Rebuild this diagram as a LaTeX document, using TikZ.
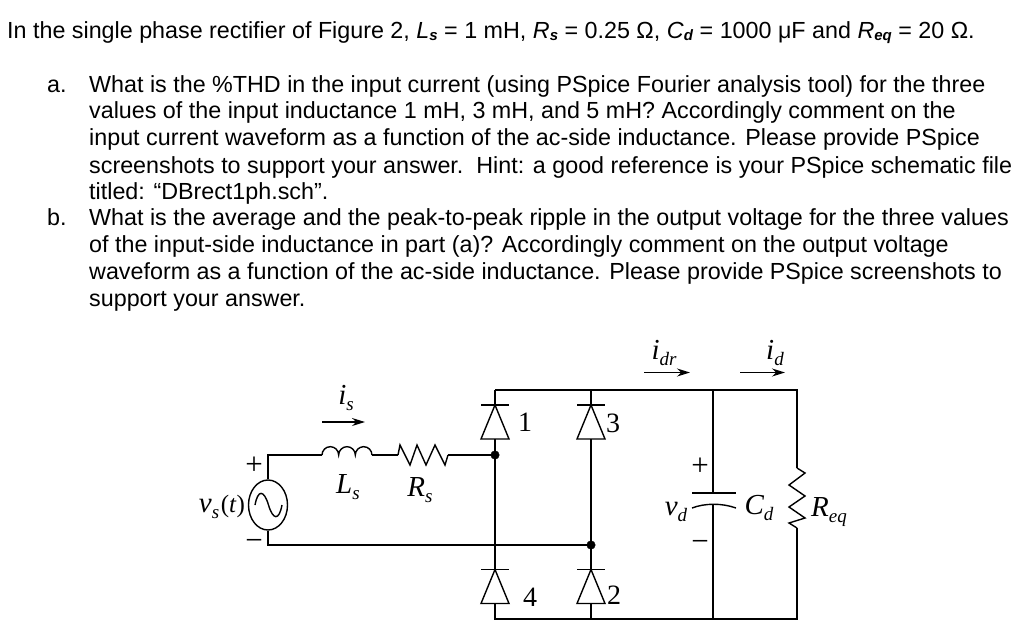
\documentclass[tikz,border=0pt]{standalone}
\usepackage{fontspec}
\setmainfont{Liberation Sans}
\newfontfamily\cirfont{Liberation Serif}
\usetikzlibrary{shapes.geometric,arrows.meta}

\newcommand{\txtsub}[2]{\textit{#1}\raisebox{-2.5pt}{\fontsize{15}{15}\selectfont\textit{\textbf{#2}}}}
\newcommand{\cirlabel}[2]{{\cirfont\itshape\fontsize{29}{29}\selectfont #1\raisebox{-6pt}{\fontsize{19}{19}\selectfont #2}}}

\tikzset{
    textline/.style={anchor=base west,inner sep=0pt,font=\fontsize{23.3}{23.3}\selectfont},
    wire/.style={line width=1.4pt},
    junction/.style={draw,circle,fill=black,inner sep=0pt,minimum size=8.5pt},
    number/.style={inner sep=0pt,font=\cirfont\fontsize{28}{28}\selectfont},
    sign/.style={inner sep=0pt,font=\cirfont\fontsize{31}{31}\selectfont},
    symbol/.style={inner sep=0pt},
    currentarrow/.style={line width=1.4pt,-{Stealth[length=13pt,width=8pt]}},
    diode/.pic={
        \draw[wire] (-14,0) -- (14,0);
        \draw[wire] (0,0) -- (-14,34) -- (14,34) -- cycle;
        \coordinate (-k) at (0,0);
        \coordinate (-a) at (0,34);
    },
    coil/.pic={
        \draw[wire] (0,0) arc[start angle=180,end angle=360,radius=8.33]
            arc[start angle=180,end angle=360,radius=8.33]
            arc[start angle=180,end angle=360,radius=8.33];
        \coordinate (-a) at (0,0);
        \coordinate (-b) at (50,0);
    },
    zigzagh/.pic={
        \draw[wire] (0,0) -- (2,-10) -- (12,10) -- (19,-10) -- (28,10) -- (37,-10) -- (47,10) -- (50,0);
        \coordinate (-a) at (0,0);
        \coordinate (-b) at (50,0);
    },
    zigzagv/.pic={
        \draw[wire] (0,0) -- (8,5) -- (-8,17) -- (8,28) -- (-8,39) -- (8,50) -- (-8,55) -- (0,60);
        \coordinate (-a) at (0,0);
        \coordinate (-b) at (0,60);
    },
}

\begin{document}
\begin{tikzpicture}[x=1pt,y=-1pt]
    \useasboundingbox (0,0) rectangle (1024,635);

    % problem text
    \node[textline] (intro) at (7,38) {In the single phase rectifier of Figure 2, \txtsub{L}{s} = 1 mH, \txtsub{R}{s} = 0.25 Ω, \txtsub{C}{d} = 1000 μF and \txtsub{R}{eq} = 20 Ω.};
    \node[textline] (parta) at (47,92) {a.};
    \node[textline] (a1) at (89,92) {What is the \%THD in the input current (using PSpice Fourier analysis tool) for the three};
    \node[textline] (a2) at (89,118) {values of the input inductance 1 mH, 3 mH, and 5 mH? Accordingly comment on the};
    \node[textline] (a3) at (89,145) {input current waveform as a function of the ac-side inductance. Please provide PSpice};
    \node[textline] (a4) at (89,173) {screenshots to support your answer.\ \ Hint: a good reference is your PSpice schematic file};
    \node[textline] (a5) at (89,199) {titled: “DBrect1ph.sch”.};
    \node[textline] (partb) at (47,225) {b.};
    \node[textline] (b1) at (89,225) {What is the average and the peak-to-peak ripple in the output voltage for the three values};
    \node[textline] (b2) at (89,252) {of the input-side inductance in part (a)? Accordingly comment on the output voltage};
    \node[textline] (b3) at (89,279) {waveform as a function of the ac-side inductance. Please provide PSpice screenshots to};
    \node[textline] (b4) at (89,306) {support your answer.};

    % corners of the circuit
    \coordinate (srctop) at (268,455);
    \coordinate (srcbot) at (268,545);
    \coordinate (lefttop) at (495,390);
    \coordinate (leftbot) at (495,619);
    \coordinate (righttop) at (591,390);
    \coordinate (rightbot) at (591,619);
    \coordinate (captop) at (713,390);
    \coordinate (capbot) at (713,619);
    \coordinate (restop) at (797,390);
    \coordinate (resbot) at (797,619);

    \node[junction] (acleft) at (495,455) {};
    \node[junction] (acright) at (591,545) {};
    \node[draw,ellipse,line width=1.4pt,inner sep=0pt,minimum width=39pt,minimum height=50pt] (vsrc) at (268,505) {};
    \draw[wire] (255,505) .. controls (258,489) and (264,490) .. (268.5,505) .. controls (273,520) and (279,521) .. (282,505);

    \pic (ls) at (322,455) {coil};
    \pic (rs) at (398,455) {zigzagh};
    \pic (d1) at (495,405) {diode};
    \pic (d3) at (591,405) {diode};
    \pic (d4) at (495,569.5) {diode};
    \pic (d2) at (591,569.5) {diode};
    \pic (req) at (797,468) {zigzagv};

    % capacitor plates
    \coordinate (platetop) at (713,493);
    \coordinate (platebot) at (713,504);
    \draw[wire] (692,493) -- (736,493);
    \draw[wire] (692,508) .. controls (705,503) and (722,503) .. (736,508);

    % wires
    \draw[wire] (vsrc.north) -- (srctop) -- (ls-a);
    \draw[wire] (ls-b) -- (rs-a);
    \draw[wire] (rs-b) -- (acleft);
    \draw[wire] (vsrc.south) -- (srcbot) -- (acright);
    \draw[wire] (lefttop) -- (restop) -- (req-a);
    \draw[wire] (req-b) -- (resbot) -- (leftbot) -- (d4-a);
    \draw[wire] (lefttop) -- (d1-k);
    \draw[wire] (d1-a) -- (d4-k);
    \draw[wire] (righttop) -- (d3-k);
    \draw[wire] (d3-a) -- (d2-k);
    \draw[wire] (rightbot) -- (d2-a);
    \draw[wire] (captop) -- (platetop);
    \draw[wire] (platebot) -- (capbot);

    % current arrows
    \coordinate (isa) at (322,422);
    \coordinate (isb) at (365,422);
    \coordinate (idra) at (644,372.5);
    \coordinate (idrb) at (690,372.5);
    \coordinate (ida) at (740,372.5);
    \coordinate (idb) at (785,372.5);
    \draw[currentarrow] (isa) -- (isb);
    \draw[currentarrow] (idra) -- (idrb);
    \draw[currentarrow] (ida) -- (idb);

    % circuit labels
    \node[symbol] (labis) at (346,398) {\cirlabel{i}{s}};
    \node[symbol] (labidr) at (664,353) {\cirlabel{i}{dr}};
    \node[symbol] (labid) at (775,353) {\cirlabel{i}{d}};
    \node[symbol] (labls) at (348,487) {\cirlabel{L}{s}};
    \node[symbol] (labrs) at (420,490) {\cirlabel{R}{s}};
    \node[symbol] (labvs) at (222,507) {\cirlabel{v}{s}\,{\cirfont\fontsize{25}{25}\selectfont(\textit{t})}};
    \node[symbol] (labvd) at (676,512) {\cirlabel{v}{d}};
    \node[symbol] (labcd) at (759,508) {\cirlabel{C}{d}};
    \node[symbol] (labreq) at (829,512) {\cirlabel{R}{eq}};
    \node[number] (lab1) at (525,422) {1};
    \node[number] (lab3) at (613,423) {3};
    \node[number] (lab4) at (530,597) {4};
    \node[number] (lab2) at (614,595) {2};
    \node[sign] (plusvs) at (254,466) {+};
    \node[sign] (minusvs) at (254,545) {−};
    \node[sign] (plusvd) at (700,467) {+};
    \node[sign] (minusvd) at (700,546) {−};
\end{tikzpicture}
\end{document}
